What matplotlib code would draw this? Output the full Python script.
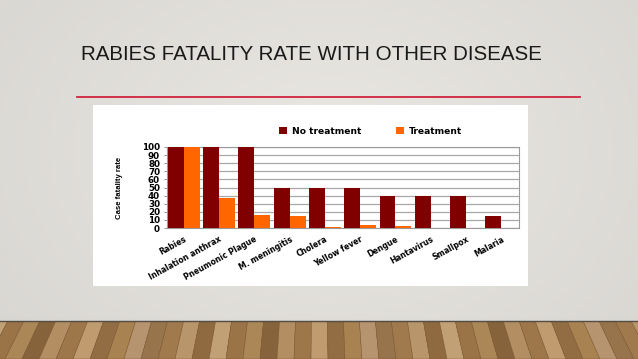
import matplotlib
matplotlib.use("Agg")
import matplotlib.pyplot as plt
import numpy as np
from matplotlib.patches import Rectangle, Polygon

# ---- data ----
categories = ["Rabies", "Inhalation anthrax", "Pneumonic Plague", "M. meningitis",
              "Cholera", "Yellow fever", "Dengue", "Hantavirus", "Smallpox", "Malaria"]
no_treatment = [100, 100, 100, 50, 50, 50, 40, 40, 40, 15]
treatment = [100, 37, 16, 15, 1, 4, 2, 0, 0, 0]
yticks = [0, 10, 20, 30, 40, 50, 60, 70, 80, 90, 100]
title = "RABIES FATALITY RATE WITH OTHER DISEASE"
ylabel = "Case fatality rate"
series_names = ["No treatment", "Treatment"]

W, H = 638, 359
fig = plt.figure(figsize=(W / 100, H / 100), dpi=100)

# ---- slide background ----
bg = fig.add_axes([0, 0, 1, 1], zorder=-10)
bg.set_xlim(0, W)
bg.set_ylim(H, 0)
bg.axis("off")
yy, xx = np.mgrid[0:H, 0:W]
r = np.sqrt(((xx - 330) / 420) ** 2 + ((yy - 150) / 300) ** 2)
g = np.clip(0.915 - 0.065 * r, 0, 1)
img = np.dstack([g, g * 0.99, g * 0.97])
bg.imshow(img, extent=[0, W, H, 0], aspect="auto", interpolation="bilinear")

# wooden floor
floor_top = 321
bg.add_patch(Rectangle((0, floor_top), W, H - floor_top, color="#9c774b", zorder=1))
plank_cols = ["#a07a4c", "#b8956a", "#8f6a40", "#c2a075", "#9a7346", "#ab8758",
              "#86633b", "#b28e62", "#9d774a", "#bf9b6f", "#926d43", "#a88250",
              "#b79470", "#97744c"]
step = 17
k = 0.94
xs = np.arange(-80, W + 100, step)
for i, xb in enumerate(xs):
    xt = 319 + (xb - 319) * k
    xb2 = xb + step
    xt2 = 319 + (xb2 - 319) * k
    bg.add_patch(Polygon([(xb, H), (xb2, H), (xt2, floor_top), (xt, floor_top)],
                         closed=True, facecolor=plank_cols[i % len(plank_cols)],
                         edgecolor="#7a5733", linewidth=0.3, zorder=2))
bg.plot([0, W], [floor_top + 0.3, floor_top + 0.3], color="#4f4840", lw=1.0, zorder=3)
bg.plot([0, W], [floor_top - 1.0, floor_top - 1.0], color="#bdbab5", lw=0.8, zorder=3)

# title and rule
bg.text(81, 55, title, fontsize=14.8, family=["Liberation Sans", "DejaVu Sans"],
        color="#1a1a1a", ha="left", va="center", zorder=4)
bg.plot([77, 580], [97, 97], color="#d0233f", lw=1.3, zorder=4)

# white panel
bg.add_patch(Rectangle((93, 105), 435, 181, facecolor="white", edgecolor="none", zorder=4))

# ---- chart ----
left, right, top, bottom = 167, 519, 147, 228
ax = fig.add_axes([left / W, (H - bottom) / H, (right - left) / W, (bottom - top) / H])
ax.set_facecolor("white")
x = np.arange(len(categories))
w = 0.45
fam = ["DejaVu Sans"]
ax.bar(x - w / 2, no_treatment, w, color="#800000", label=series_names[0], zorder=3)
ax.bar(x + w / 2, treatment, w, color="#ff6600", label=series_names[1], zorder=3)
ax.set_xlim(-0.475, 9.5)
ax.set_ylim(0, 100)
ax.set_yticks(yticks)
ax.set_yticklabels([str(v) for v in yticks], fontsize=6.3, fontweight="bold", family=fam)
ax.yaxis.grid(True, color="#a8a8a8", lw=0.9, zorder=0)
ax.set_axisbelow(True)
ax.set_xticks(x)
ax.set_xticklabels(categories, rotation=29, ha="right", rotation_mode="anchor",
                   fontsize=5.6, fontweight="bold", family=fam)
ax.tick_params(axis="x", length=0, pad=5)
ax.tick_params(axis="y", length=2, width=0.6, color="#888888", pad=3)
for s in ax.spines.values():
    s.set_color("#9a9a9a")
    s.set_linewidth(0.8)
ax.set_ylabel(ylabel, fontsize=5.6, family=["Liberation Sans", "DejaVu Sans"],
              fontweight="bold")
ax.yaxis.set_label_coords(-0.125, 0.5)

fig.legend(loc="center", bbox_to_anchor=(371 / W, (H - 131) / H), ncol=2, frameon=False,
           prop={"family": fam, "weight": "bold", "size": 6.6},
           handlelength=0.8, handleheight=0.8, handletextpad=0.6, columnspacing=3.8)

fig.savefig("out.png", dpi=100)
